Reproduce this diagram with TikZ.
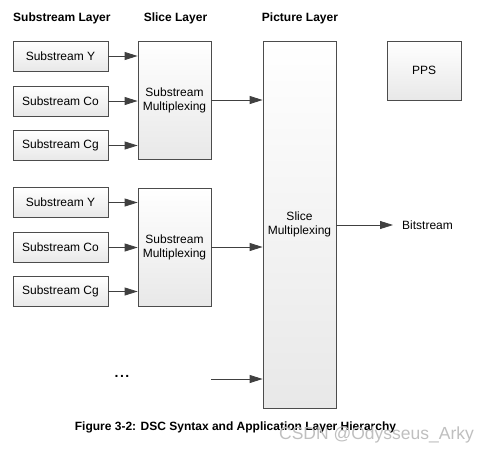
\documentclass[tikz,border=0pt]{standalone}
\usepackage{fontspec}
\setmainfont{Liberation Sans}
\usetikzlibrary{arrows.meta}

\tikzset{
  blk/.style={draw=black!70, line width=0.8pt, top color=white, bottom color=black!9,
    font=\fontsize{12}{14}\selectfont, align=center, inner sep=0pt},
  sub/.style={blk, minimum width=95pt, minimum height=30pt},
  mux/.style={blk, minimum width=73pt, minimum height=118pt},
  lyr/.style={font=\fontsize{12}{14}\selectfont\bfseries, inner sep=0pt},
  arr/.style={draw=black!75, line width=0.8pt, -{Triangle[length=13pt,width=8pt]}},
}

\begin{document}
\begin{tikzpicture}[x=1pt, y=-1pt]
    \useasboundingbox (0,0) rectangle (492,453);
    \node[lyr, anchor=west] (L1) at (13,18) {Substream Layer};
    \node[lyr] (L2) at (175.5,18) {Slice Layer};
    \node[lyr] (L3) at (300,18) {Picture Layer};
    \node[sub] (Y1) at (60.5,56) {Substream Y};
    \node[sub] (Co1) at (60.5,101) {Substream Co};
    \node[sub] (Cg1) at (60.5,145.5) {Substream Cg};
    \node[sub] (Y2) at (60.5,202.5) {Substream Y};
    \node[sub] (Co2) at (60.5,247.5) {Substream Co};
    \node[sub] (Cg2) at (60.5,291.5) {Substream Cg};
    \node[mux] (S1) at (174.5,100) {Substream\\Multiplexing};
    \node[mux] (S2) at (174.5,247) {Substream\\Multiplexing};
    \node[blk, minimum width=73pt, minimum height=367pt] (P) at (299.5,224.5) {Slice\\Multiplexing};
    \node[blk, minimum width=74pt, minimum height=59pt] (PPS) at (424,70.5) {PPS};
    \node[anchor=west, inner sep=0pt, font=\fontsize{12}{14}\selectfont] (B) at (402,225) {Bitstream};
    \node[inner sep=0pt, font=\fontsize{14}{16}\selectfont\bfseries] (D) at (122,376) {.\hspace{1.5pt}.\hspace{1.5pt}.};
    \coordinate (E) at (211,379); %ALTRE SLICE
    \foreach \n in {Y1,Co1,Cg1} \draw[arr] (\n.east) -- (\n.east -| S1.west);
    \foreach \n in {Y2,Co2,Cg2} \draw[arr] (\n.east) -- (\n.east -| S2.west);
    \draw[arr] (S1.east) -- (S1.east -| P.west);
    \draw[arr] (S2.east) -- (S2.east -| P.west);
    \draw[arr] (E) -- (E -| P.west);
    \draw[arr, shorten >=9pt] (P.east |- B.west) -- (B.west);
    \node[lyr] (F) at (235.5,427) {Figure 3-2: DSC Syntax and Application Layer Hierarchy};
    \node[inner sep=0pt, font=\fontsize{17.5}{20}\selectfont, text=black!25] (W) at (376.5,435) {CSDN @Odysseus\_Arky};
\end{tikzpicture}
\end{document}
